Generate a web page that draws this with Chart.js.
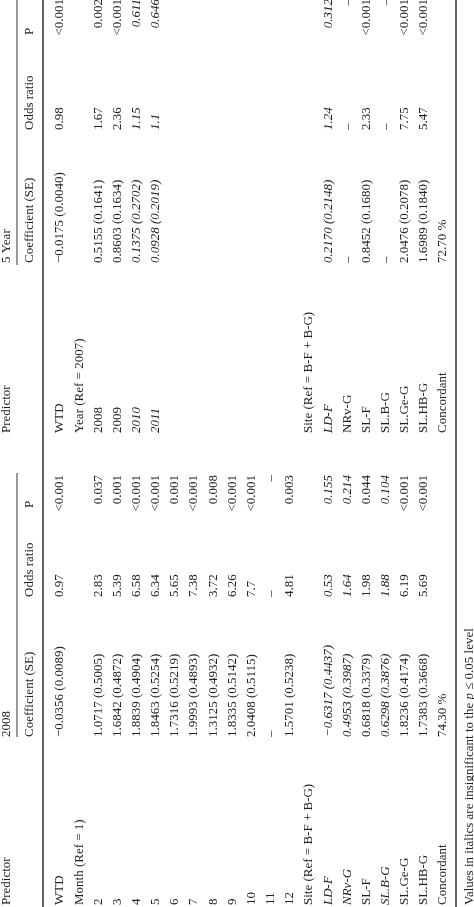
<!DOCTYPE html>
<html>
<head>
<meta charset="utf-8">
<script src="https://cdn.jsdelivr.net/npm/chart.js@4/dist/chart.umd.min.js"></script>
<style>
  html, body { margin: 0; padding: 0; background: #fff; overflow: hidden; }
</style>
</head>
<body>
<canvas id="tbl" width="474" height="907"></canvas>
<script>
'use strict';

// 2008 model (left block)
const pred2008 = ['WTD', 'Month (Ref = 1)', '2', '3', '4', '5', '6', '7', '8', '9', '10', '11', '12',
  'Site (Ref = B-F + B-G)', 'LD-F', 'NRv-G', 'SL-F', 'SL.B-G', 'SL.Ge-G', 'SL.HB-G', 'Concordant'];
const coef2008 = ['\u22120.0356 (0.0089)', '', '1.0717 (0.5005)', '1.6842 (0.4872)', '1.8839 (0.4904)',
  '1.8463 (0.5254)', '1.7316 (0.5219)', '1.9993 (0.4893)', '1.3125 (0.4932)', '1.8335 (0.5142)',
  '2.0408 (0.5115)', '\u2013', '1.5701 (0.5238)', '', '\u22120.6317 (0.4437)', '0.4953 (0.3987)',
  '0.6818 (0.3379)', '0.6298 (0.3876)', '1.8236 (0.4174)', '1.7383 (0.3668)', '74.30 %'];
const odds2008 = ['0.97', '', '2.83', '5.39', '6.58', '6.34', '5.65', '7.38', '3.72', '6.26', '7.7', '\u2013',
  '4.81', '', '0.53', '1.64', '1.98', '1.88', '6.19', '5.69', ''];
const p2008 = ['<0.001', '', '0.037', '0.001', '<0.001', '<0.001', '0.001', '<0.001', '0.008', '<0.001',
  '<0.001', '\u2013', '0.003', '', '0.155', '0.214', '0.044', '0.104', '<0.001', '<0.001', ''];
const ital2008 = [14, 15, 17];

// 5 year model (right block)
const pred5y = ['WTD', 'Year (Ref = 2007)', '2008', '2009', '2010', '2011', '', '', '', '', '', '', '',
  'Site (Ref = B-F + B-G)', 'LD-F', 'NRv-G', 'SL-F', 'SL.B-G', 'SL.Ge-G', 'SL.HB-G', 'Concordant'];
const coef5y = ['\u22120.0175 (0.0040)', '', '0.5155 (0.1641)', '0.8603 (0.1634)', '0.1375 (0.2702)',
  '0.0928 (0.2019)', '', '', '', '', '', '', '', '', '0.2170 (0.2148)', '\u2013', '0.8452 (0.1680)',
  '\u2013', '2.0476 (0.2078)', '1.6989 (0.1840)', '72.70 %'];
const odds5y = ['0.98', '', '1.67', '2.36', '1.15', '1.1', '', '', '', '', '', '', '', '', '1.24', '\u2013',
  '2.33', '\u2013', '7.75', '5.47', ''];
const p5y = ['<0.001', '', '0.002', '<0.001', '0.611', '0.646', '', '', '', '', '', '', '', '', '0.312',
  '\u2013', '<0.001', '\u2013', '<0.001', '<0.001', ''];
const ital5y = [4, 5, 14];

const FONT = '"Liberation Serif", "DejaVu Serif", serif';

const tablePlugin = {
  id: 'rotTable',
  afterDraw(chart) {
    const ctx = chart.ctx;
    const sx = chart.scales.x, sy = chart.scales.y;
    // row r -> x pixel, column offset -> y pixel
    const rowX = r => sx.getPixelForValue(60 + r * 19.15);
    const put = (txt, x, y, italic, align) => {
      if (!txt) return;
      ctx.save();
      ctx.translate(x, sy.getPixelForValue(y));
      ctx.rotate(-Math.PI / 2);
      ctx.font = (italic ? 'italic ' : '') + '13px ' + FONT;
      ctx.fillStyle = '#222';
      ctx.textAlign = align || 'left';
      ctx.textBaseline = 'middle';
      ctx.fillText(txt, 0, 0);
      ctx.restore();
    };
    const line = (x, y1, y2, w) => {
      ctx.save();
      ctx.strokeStyle = '#333';
      ctx.lineWidth = w;
      ctx.beginPath();
      ctx.moveTo(sx.getPixelForValue(x), sy.getPixelForValue(y1));
      ctx.lineTo(sx.getPixelForValue(x), sy.getPixelForValue(y2));
      ctx.stroke();
      ctx.restore();
    };

    // headers
    put('Predictor', sx.getPixelForValue(7), 905);
    put('2008', sx.getPixelForValue(7), 737);
    put('Predictor', sx.getPixelForValue(7), 433);
    put('5 Year', sx.getPixelForValue(7), 263);
    line(17, 473, 737, 1);
    line(17, 0, 265, 1);
    put('Coefficient (SE)', sx.getPixelForValue(30), 737);
    put('Odds ratio', sx.getPixelForValue(30), 597);
    put('P', sx.getPixelForValue(30), 508);
    put('Coefficient (SE)', sx.getPixelForValue(30), 263);
    put('Odds ratio', sx.getPixelForValue(30), 130);
    put('P', sx.getPixelForValue(30), 35);
    line(43, 0, 907, 1.5);

    for (let r = 0; r < pred2008.length; r++) {
      const x = rowX(r);
      const i1 = ital2008.includes(r), i2 = ital5y.includes(r);
      put(pred2008[r], x, 905, i1);
      put(coef2008[r], x, 737, i1);
      put(odds2008[r], x, 597, i1);
      put(p2008[r], x, 475, i1, 'right');
      put(pred5y[r], x, 433, i2);
      put(coef5y[r], x, 263, i2);
      put(odds5y[r], x, 130, i2);
      put(p5y[r], x, -1, i2, 'right');
    }
    line(456, 0, 907, 1.5);

    // footnote
    const fx = sx.getPixelForValue(470);
    ctx.save();
    ctx.translate(fx, sy.getPixelForValue(905));
    ctx.rotate(-Math.PI / 2);
    ctx.textBaseline = 'middle';
    ctx.fillStyle = '#222';
    ctx.font = '13px ' + FONT;
    let t = 'Values in italics are insignificant to the ';
    ctx.fillText(t, 0, 0);
    let w = ctx.measureText(t).width;
    ctx.font = 'italic 13px ' + FONT;
    ctx.fillText('p', w, 0);
    w += ctx.measureText('p ').width;
    ctx.font = '13px ' + FONT;
    ctx.fillText('\u2264 0.05 level', w, 0);
    ctx.restore();
  }
};

new Chart(document.getElementById('tbl').getContext('2d'), {
  type: 'scatter',
  data: { datasets: [{ data: [] }] },
  options: {
    responsive: false,
    animation: false,
    layout: { padding: 0 },
    plugins: { legend: { display: false }, tooltip: { enabled: false } },
    scales: {
      x: { type: 'linear', min: 0, max: 474, display: false },
      y: { type: 'linear', min: 0, max: 907, reverse: true, display: false }
    }
  },
  plugins: [tablePlugin]
});
</script>
</body>
</html>
